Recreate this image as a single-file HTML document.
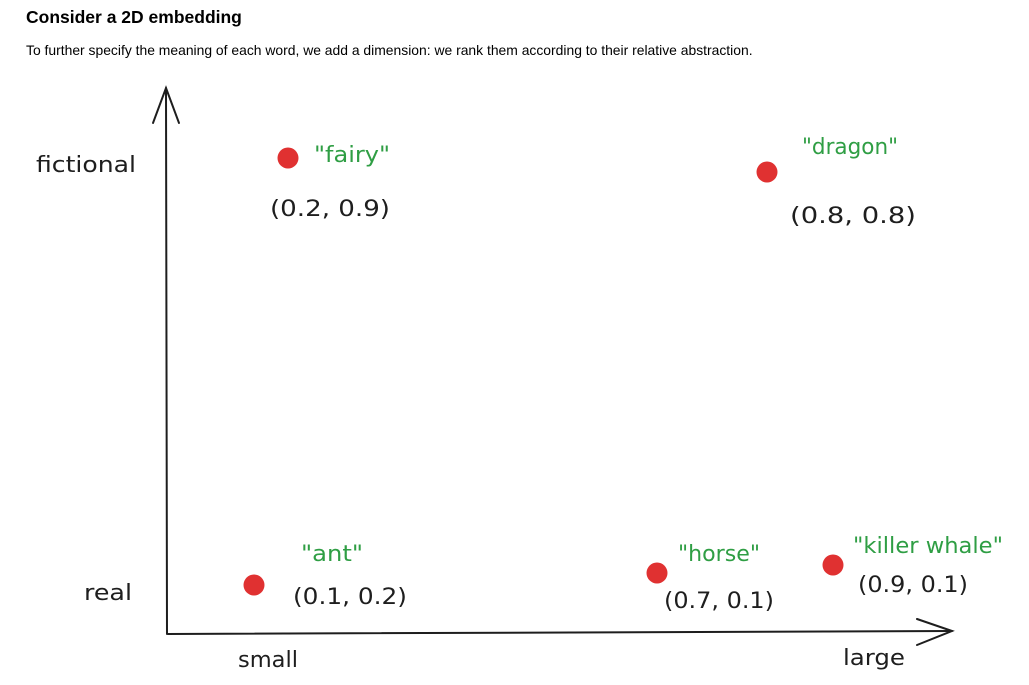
<!DOCTYPE html>
<html><head><style>
body{margin:0;background:#fff;width:1029px;height:685px;overflow:hidden;font-family:"Liberation Sans",sans-serif;}
h1{position:absolute;left:26px;top:7px;margin:0;font-size:17.5px;font-weight:bold;color:#000;white-space:nowrap;}
p{position:absolute;left:26px;top:42px;margin:0;font-size:13.9px;color:#000;white-space:nowrap;}
svg{position:absolute;left:0;top:0;}
text{font-family:"Comic Sans MS","DejaVu Sans",sans-serif;}
.g{fill:#2f9e44;font-size:22px;}
.k{fill:#1e1e1e;font-size:22px;}
</style></head><body>
<h1>Consider a 2D embedding</h1>
<p>To further specify the meaning of each word, we add a dimension: we rank them according to their relative abstraction.</p>
<svg width="1029" height="685">
<g stroke="#1e1e1e" stroke-width="2" fill="none" stroke-linecap="round">
<path d="M167 634 L166 88"/>
<path d="M153 123 L166 88 L179 123"/>
<path d="M168 634 L952 631"/>
<path d="M917 619 L952 631 L917 645"/>
</g>
<g fill="#e03131">
<circle cx="288" cy="158" r="10.5"/>
<circle cx="767" cy="172" r="10.5"/>
<circle cx="254" cy="585" r="10.5"/>
<circle cx="657" cy="573" r="10.5"/>
<circle cx="833" cy="565" r="10.5"/>
</g>
<text class="k" x="36" y="172" textLength="100" lengthAdjust="spacingAndGlyphs">fictional</text>
<text class="k" x="84" y="600" textLength="48" lengthAdjust="spacingAndGlyphs">real</text>
<text class="k" x="238" y="667" textLength="60" lengthAdjust="spacingAndGlyphs">small</text>
<text class="k" x="843" y="665" textLength="62" lengthAdjust="spacingAndGlyphs">large</text>
<text class="g" x="314" y="162" textLength="76" lengthAdjust="spacingAndGlyphs">"fairy"</text>
<text class="g" x="802" y="154" textLength="96" lengthAdjust="spacingAndGlyphs">"dragon"</text>
<text class="g" x="301" y="561" textLength="62" lengthAdjust="spacingAndGlyphs">"ant"</text>
<text class="g" x="678" y="561" textLength="82" lengthAdjust="spacingAndGlyphs">"horse"</text>
<text class="g" x="853" y="553" textLength="150" lengthAdjust="spacingAndGlyphs">"killer whale"</text>
<text class="k" x="270" y="216" textLength="120" lengthAdjust="spacingAndGlyphs">(0.2, 0.9)</text>
<text class="k" x="790" y="223" textLength="126" lengthAdjust="spacingAndGlyphs">(0.8, 0.8)</text>
<text class="k" x="293" y="604" textLength="114" lengthAdjust="spacingAndGlyphs">(0.1, 0.2)</text>
<text class="k" x="664" y="608" textLength="110" lengthAdjust="spacingAndGlyphs">(0.7, 0.1)</text>
<text class="k" x="858" y="592" textLength="110" lengthAdjust="spacingAndGlyphs">(0.9, 0.1)</text>
</svg>
</body></html>
